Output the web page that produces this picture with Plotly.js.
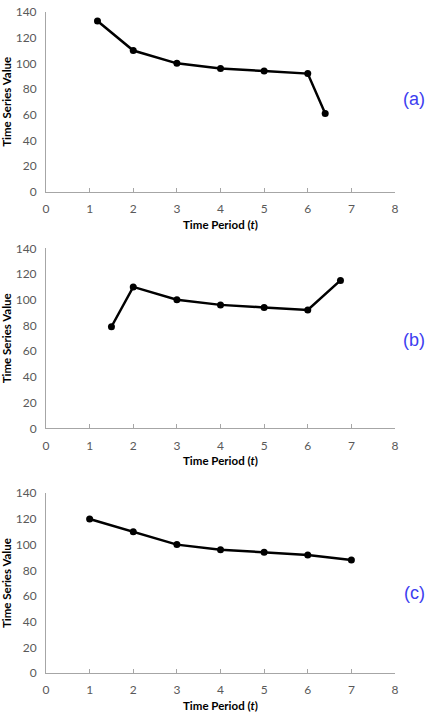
<!DOCTYPE html>
<html>
<head>
<meta charset="utf-8">
<script src="https://cdn.plot.ly/plotly-3.0.1.min.js"></script>
<style>html,body{margin:0;padding:0;background:#fff;}#chart{width:436px;height:725px;}</style>
</head>
<body>
<div id="chart"></div>
<script>
const xA = [1.18, 2, 3, 4, 5, 6, 6.4];
const yA = [133, 110, 100, 96, 94, 92, 61];
const xB = [1.5, 2, 3, 4, 5, 6, 6.75];
const yB = [79, 110, 100, 96, 94, 92, 115];
const xC = [1, 2, 3, 4, 5, 6, 7];
const yC = [120, 110, 100, 96, 94, 92, 88];
const panelLabels = ['(a)', '(b)', '(c)'];
const xTicks = [0, 1, 2, 3, 4, 5, 6, 7, 8];
const yTicks = [0, 20, 40, 60, 80, 100, 120, 140];

const series = [[xA, yA], [xB, yB], [xC, yC]];
const domains = [[0.7281, 1.0], [0.3702, 0.6425], [0.0, 0.2719]];
const labelY = [72, 69, 62];
const font = 'Lato, "Open Sans", sans-serif';

const traces = series.map((s, i) => ({
  x: s[0], y: s[1], type: 'scatter', mode: 'lines+markers',
  xaxis: i === 0 ? 'x' : 'x' + (i + 1),
  yaxis: i === 0 ? 'y' : 'y' + (i + 1),
  line: {color: '#000', width: 2.5},
  marker: {color: '#000', size: 7, symbol: 'circle'},
  showlegend: false, hoverinfo: 'none'
}));

const layout = {
  width: 436, height: 725,
  margin: {l: 46, r: 41, t: 12, b: 52},
  paper_bgcolor: '#fff', plot_bgcolor: '#fff',
  font: {family: font, color: '#595959', size: 12},
  annotations: []
};

for (let i = 0; i < 3; i++) {
  const sx = i === 0 ? '' : String(i + 1);
  layout['xaxis' + sx] = {
    domain: [0, 1], anchor: 'y' + sx, range: [0, 8],
    tickvals: xTicks, ticktext: xTicks.map(String),
    ticks: 'inside', ticklen: 4, tickcolor: '#a6a6a6', tickwidth: 1,
    showline: true, linecolor: '#a6a6a6', linewidth: 1,
    showgrid: false, zeroline: false, fixedrange: true,
    ticklabelstandoff: 6,
    tickfont: {family: font, size: 12, color: '#595959'},
    title: {text: 'Time Period (<i>t</i>)', standoff: 5,
            font: {family: font, size: 11.5, color: '#000', weight: 'bold'}}
  };
  layout['yaxis' + sx] = {
    domain: domains[i], anchor: 'x' + sx, range: [0, 140],
    tickvals: yTicks, ticktext: yTicks.map(String),
    ticks: '', showline: true, linecolor: '#a6a6a6', linewidth: 1,
    showgrid: false, zeroline: false, fixedrange: true,
    ticklabelstandoff: 6,
    tickfont: {family: font, size: 12, color: '#595959'},
    title: {text: 'Time Series Value', standoff: 5,
            font: {family: font, size: 11.5, color: '#000', weight: 'bold'}}
  };
  layout.annotations.push({
    text: panelLabels[i], xref: 'paper', yref: 'y' + sx,
    x: 1.055, y: labelY[i], xanchor: 'center', yanchor: 'middle',
    showarrow: false, font: {family: 'Arial, "Liberation Sans", sans-serif', size: 18, color: '#3d3df0'}
  });
}

Plotly.newPlot('chart', traces, layout, {staticPlot: true});
</script>
</body>
</html>
